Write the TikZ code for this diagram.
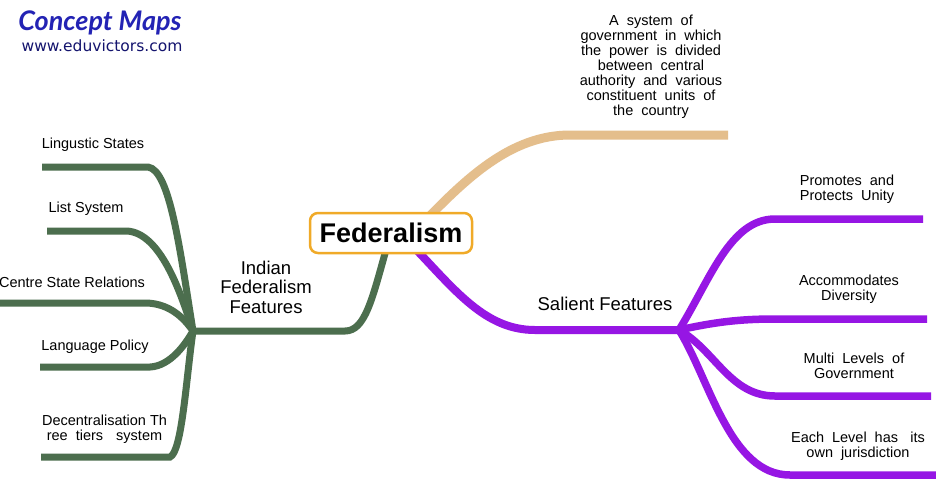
\documentclass[tikz,border=0pt]{standalone}
\usepackage{fontspec}
\setmainfont{Liberation Sans}
\newfontfamily\logofont{Lato}
\newfontfamily\urlfont{DejaVu Sans}
\usetikzlibrary{backgrounds}
\definecolor{tanc}{RGB}{228,190,140}
\definecolor{greenc}{RGB}{76,110,78}
\definecolor{purplec}{RGB}{150,22,228}
\definecolor{orangec}{RGB}{240,170,40}
\definecolor{logoblue}{RGB}{35,35,180}
\definecolor{urlblue}{RGB}{20,20,110}
\newcommand\wsp{\hspace{0.55em}}
\begin{document}
\begin{tikzpicture}[x=1pt,y=-1pt,
  lbl/.style={font=\fontsize{14.5}{15}\selectfont, align=center, inner sep=0pt, text=black},
  biglbl/.style={font=\fontsize{18.5}{19.5}\selectfont, align=center, inner sep=0pt, text=black},
  gline/.style={draw=greenc, line width=7pt},
  pline/.style={draw=purplec, line width=7.5pt},
  tline/.style={draw=tanc, line width=9pt},
  central/.style={draw=orangec, line width=2.5pt, fill=white, rounded corners=8pt,
    minimum width=162pt, minimum height=40pt, inner sep=0pt,
    font=\fontsize{27}{30}\selectfont\bfseries}]
\useasboundingbox (0,0) rectangle (936,491);

% logo
\node[inner sep=0, text=logoblue, font=\logofont\fontsize{27}{29}\selectfont\bfseries\itshape] (logo) at (100,23) {Concept Maps};
\node[inner sep=0, text=urlblue, font=\urlfont\fontsize{15.5}{16}\selectfont] (url) at (102,46) {www.eduvictors.com};

% central node
\node[central] (fed) at (391,233) {Federalism};

% hubs and leaf coordinates
\coordinate (ghub) at (193,331);
\coordinate (phub) at (679,330);
\coordinate (tend) at (728,135);

\coordinate (g1a) at (42,167);  \coordinate (g1b) at (148,167);
\coordinate (g2a) at (47,231);  \coordinate (g2b) at (127,231);
\coordinate (g3a) at (0,303);   \coordinate (g3b) at (147,303);
\coordinate (g4a) at (40,367);  \coordinate (g4b) at (150,367);
\coordinate (g5a) at (41,457);  \coordinate (g5b) at (170,457);

\coordinate (p1a) at (923,219); \coordinate (p1b) at (775,219);
\coordinate (p2a) at (927,319); \coordinate (p2b) at (775,319);
\coordinate (p3a) at (931,396); \coordinate (p3b) at (775,396);
\coordinate (p4a) at (936,475); \coordinate (p4b) at (790,475);

% labels
\node[lbl] (ling) at (93,145) {Lingustic States};
\node[lbl] (list) at (86,209) {List System};
\node[lbl] (centre) at (72,282) {Centre State Relations};
\node[lbl] (lang) at (95,347) {Language Policy};
\node[lbl] (dec) at (104.5,429) {Decentralisation Th\\ree\wsp tiers\hspace{0.9em}system};
\node[biglbl] (indian) at (266,287) {Indian\\Federalism\\Features};
\node[biglbl] (salient) at (605,304) {Salient Features};
\node[lbl] (prom) at (847,189.5) {Promotes\wsp and\\Protects\wsp Unity};
\node[lbl] (accom) at (849,289.5) {Accommodates\\Diversity};
\node[lbl] (multi) at (854,366) {Multi\wsp Levels\wsp of\\Government};
\node[lbl] (each) at (858,446) {Each\wsp Level\wsp has\hspace{0.85em}its\\own\wsp jurisdiction};
\node[lbl] (defn) at (651,67) {A\wsp system\wsp of\\government\wsp in\wsp which\\the\wsp power\wsp is\wsp divided\\between\wsp central\\authority\wsp and\wsp various\\constituent\wsp units\wsp of\\the\wsp country};

\begin{scope}[on background layer]
\fill[white] (0,0) rectangle (936,491);
% tan branch
\draw[tline] ([xshift=34pt,yshift=-9pt]fed.north) .. controls (465,180) and (510,135) .. (570,135) -- (tend);
% green main
\draw[gline] ([xshift=-4pt,yshift=8pt]fed.south) .. controls (372,300) and (365,331) .. (345,331) -- (ghub);
% purple main
\draw[pline, line width=8pt] ([xshift=22pt,yshift=8pt]fed.south) .. controls (455,290) and (485,330) .. (535,330) -- (phub);
% green leaves
\draw[gline] (g1a) -- (g1b) .. controls (170,170) and (180,250) .. (ghub);
\draw[gline] (g2a) -- (g2b) .. controls (160,233) and (180,290) .. (ghub);
\draw[gline] (g3a) -- (g3b) .. controls (170,304) and (184,318) .. (ghub);
\draw[gline] (g4a) -- (g4b) .. controls (170,366) and (185,345) .. (ghub);
\draw[gline] (g5a) -- (g5b) .. controls (182,452) and (186,380) .. (ghub);
% purple leaves
\draw[pline] (phub) .. controls (710,280) and (730,219) .. (p1b) -- (p1a);
\draw[pline] (phub) .. controls (715,322) and (740,319) .. (p2b) -- (p2a);
\draw[pline] (phub) .. controls (715,350) and (730,396) .. (p3b) -- (p3a);
\draw[pline] (phub) .. controls (710,380) and (730,475) .. (p4b) -- (p4a);
\end{scope}
\end{tikzpicture}
\end{document}
